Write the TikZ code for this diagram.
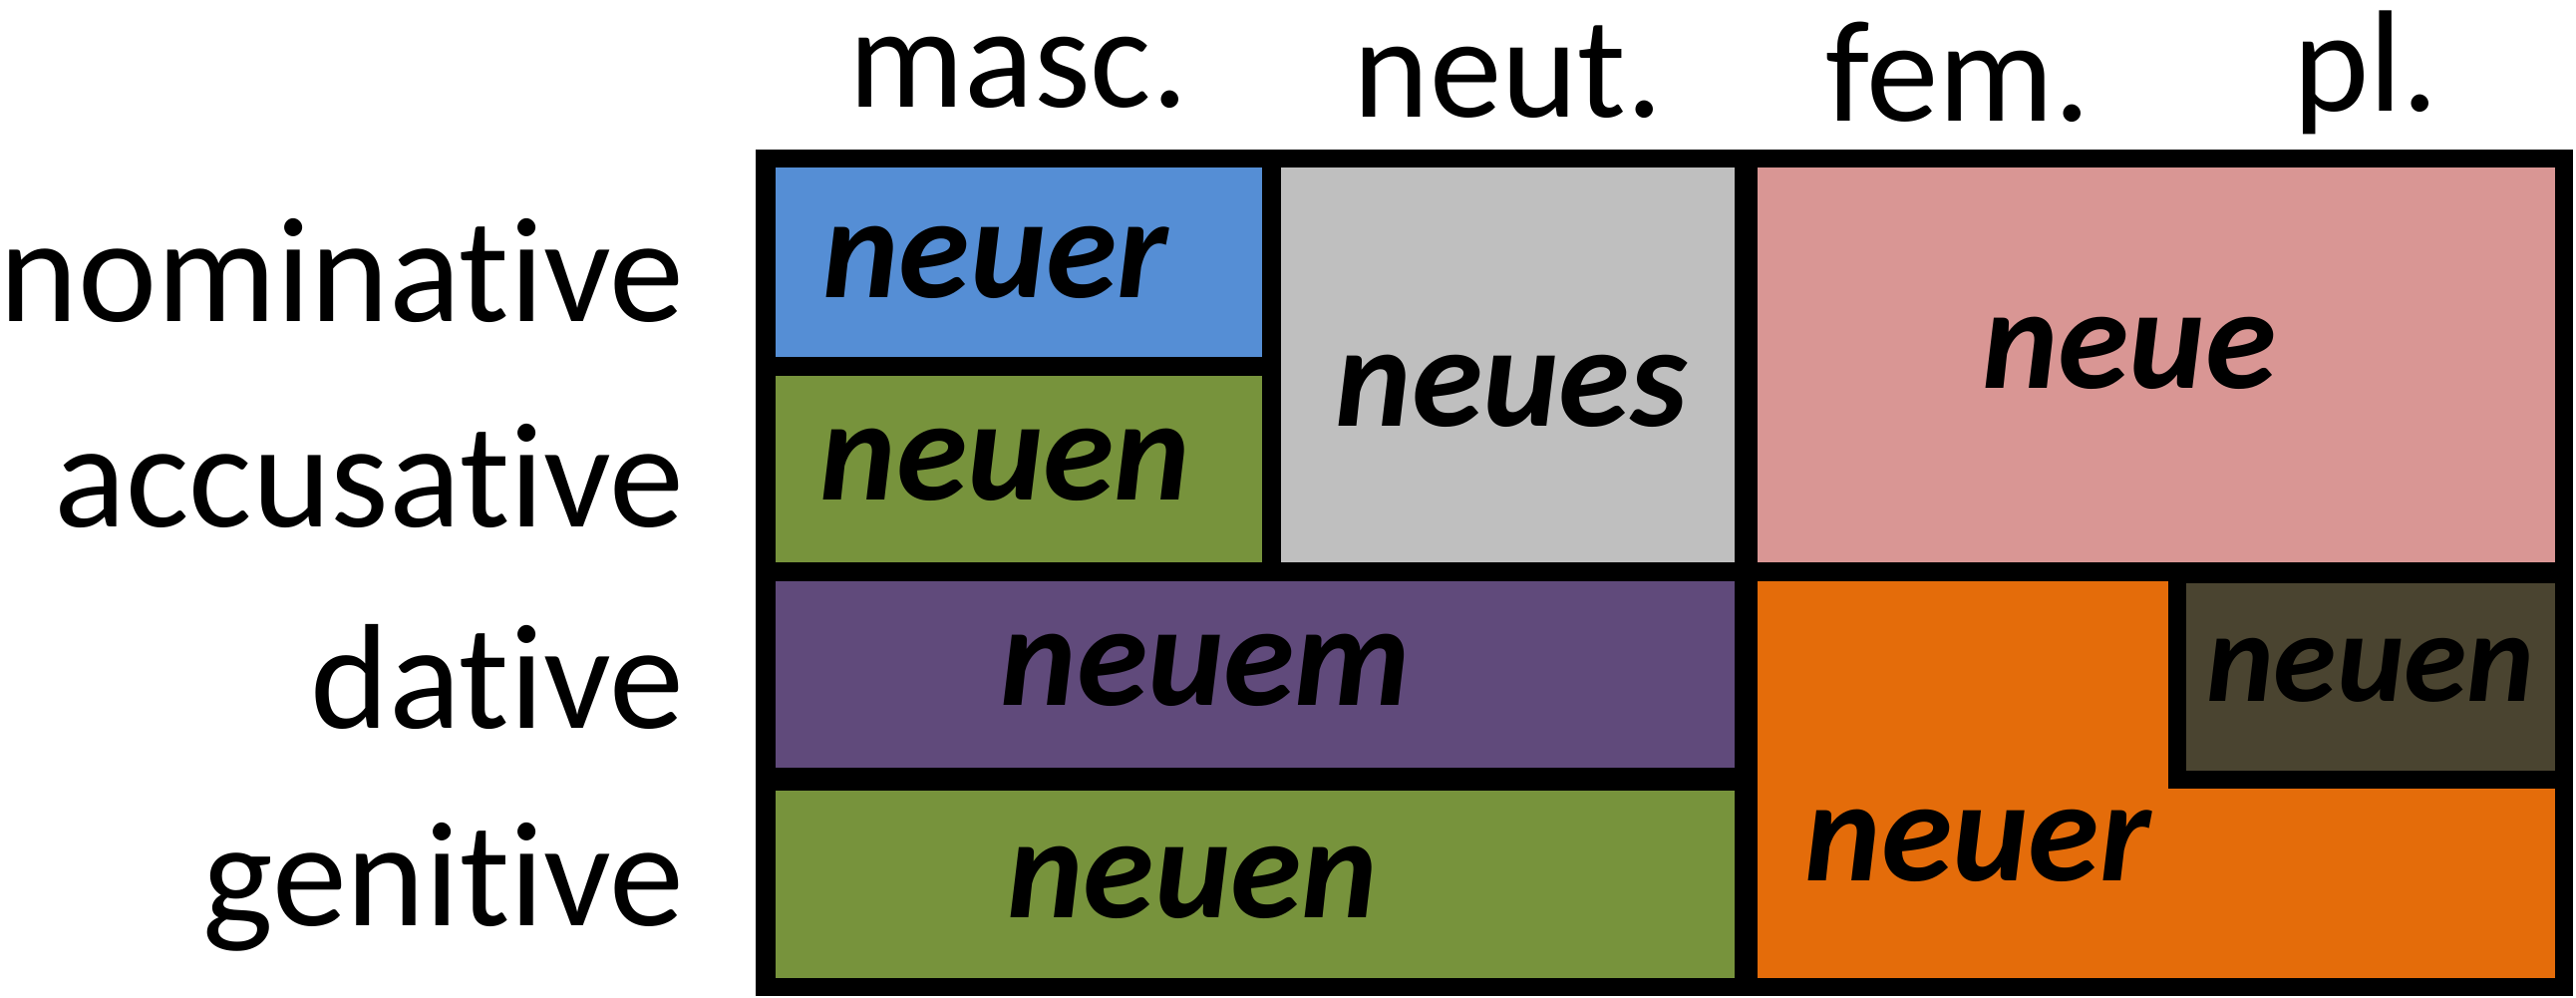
\documentclass[tikz,border=0pt]{standalone}
\usepackage{fontspec}
\setmainfont{Carlito}[Ligatures=NoCommon]
\begin{document}
\begin{tikzpicture}[x=0.5pt,y=-0.5pt,
 hdr/.style={font=\fontsize{44}{50}\selectfont,inner sep=0pt},
 rowl/.style={font=\fontsize{45.5}{52}\selectfont,anchor=east,inner sep=0pt},
 cell/.style={font=\fontsize{44}{50}\selectfont\bfseries\itshape,inner sep=0pt}]
\definecolor{cblue}{HTML}{558ED5}
\definecolor{cgreen}{HTML}{77933C}
\definecolor{cgray}{HTML}{BFBFBF}
\definecolor{cpink}{HTML}{D99694}
\definecolor{cpurple}{HTML}{604A7B}
\definecolor{corange}{HTML}{E46C0A}
\definecolor{cdark}{HTML}{4A4430}
\useasboundingbox (0,0) rectangle (1568,607);
\fill[black] (460,91) rectangle (1566,606);
\fill[cblue] (472,102) rectangle (768,217);
\fill[cgreen] (472,229) rectangle (768,342);
\fill[cgray] (780,102) rectangle (1056,342);
\fill[cpink] (1070,102) rectangle (1555,342);
\fill[cpurple] (472,354) rectangle (1056,467);
\fill[cgreen] (472,481) rectangle (1056,595);
\fill[corange] (1070,354) rectangle (1555,595);
\fill[black] (1320,345) rectangle (1566,480);
\fill[cdark] (1331,355) rectangle (1555,469);
\node[hdr] (h1) at (620,44) {masc.};
\node[hdr] (h2) at (918,44) {neut.};
\node[hdr] (h3) at (1192,44) {fem.};
\node[hdr] (h4) at (1440,44) {pl.};
\node[rowl] (r1) at (417,165) {nominative};
\node[rowl] (r2) at (417,290) {accusative};
\node[rowl] (r3) at (417,412) {dative};
\node[rowl] (r4) at (417,540) {genitive};
\node[cell] (c1) at (606,160) {neuer};
\node[cell] (c2) at (612,283) {neuen};
\node[cell] (c3) at (920,238) {neues};
\node[cell] (c4) at (1296,215) {neue};
\node[cell] (c5) at (734,408) {neuem};
\node[cell,font=\fontsize{39}{45}\selectfont\bfseries\itshape] (c7) at (1443,408) {neuen};
\node[cell] (c6) at (726,537) {neuen};
\node[cell] (c8) at (1204,515) {neuer};
\end{tikzpicture}
\end{document}
